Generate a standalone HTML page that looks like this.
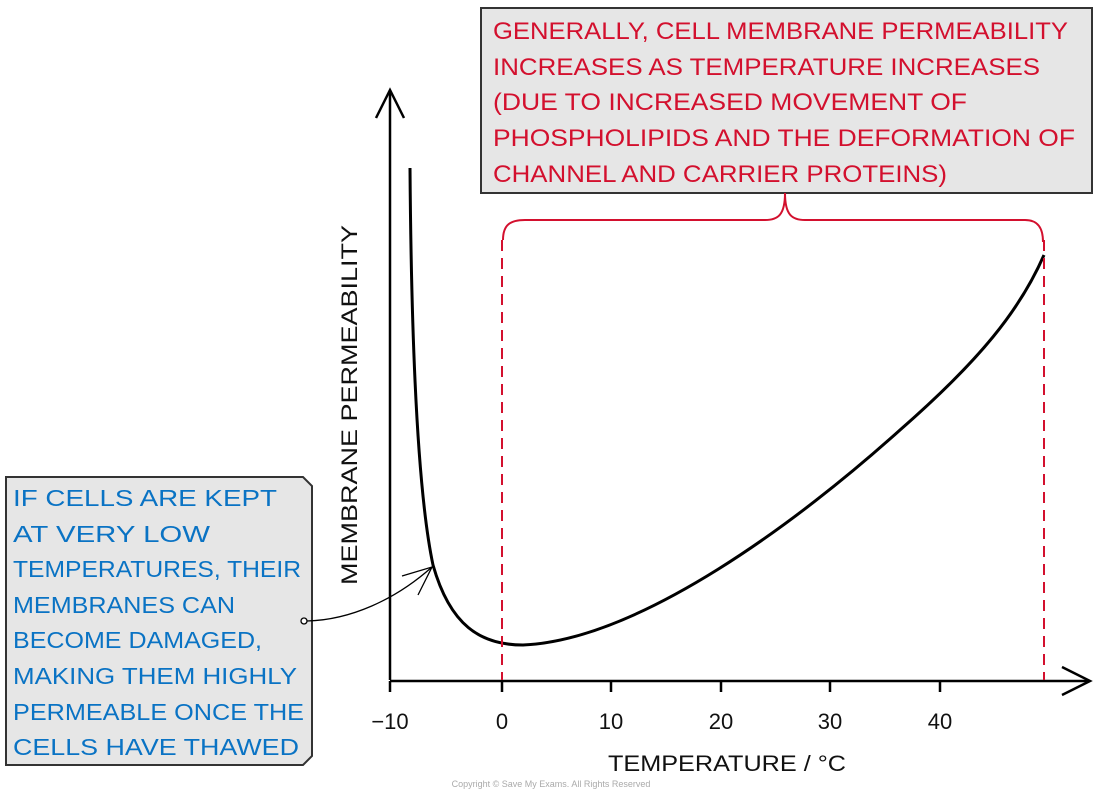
<!DOCTYPE html>
<html><head><meta charset="utf-8"><style>html,body{margin:0;padding:0;background:#fff}svg{display:block}</style></head><body>
<svg width="1100" height="795" viewBox="0 0 1100 795" xmlns="http://www.w3.org/2000/svg" font-family="Liberation Sans, sans-serif">
<rect x="481" y="8" width="611" height="185" fill="#e6e6e6" stroke="#333" stroke-width="2"/>
<g fill="#d3102e" font-size="24">
<text x="493" y="39" textLength="575" lengthAdjust="spacingAndGlyphs">GENERALLY, CELL MEMBRANE PERMEABILITY</text>
<text x="493" y="75" textLength="547" lengthAdjust="spacingAndGlyphs">INCREASES AS TEMPERATURE INCREASES</text>
<text x="493" y="110" textLength="474" lengthAdjust="spacingAndGlyphs">(DUE TO INCREASED MOVEMENT OF</text>
<text x="493" y="146" textLength="582" lengthAdjust="spacingAndGlyphs">PHOSPHOLIPIDS AND THE DEFORMATION OF</text>
<text x="493" y="182" textLength="454" lengthAdjust="spacingAndGlyphs">CHANNEL AND CARRIER PROTEINS)</text>
</g>
<path d="M6,477 H303 L312,486 V756 L303,765 H6 Z" fill="#e6e6e6" stroke="#333" stroke-width="2"/>
<g fill="#0a73c4" font-size="23">
<text x="13" y="506" textLength="264" lengthAdjust="spacingAndGlyphs">IF CELLS ARE KEPT</text>
<text x="13" y="542" textLength="197" lengthAdjust="spacingAndGlyphs">AT VERY LOW</text>
<text x="13" y="577" textLength="288" lengthAdjust="spacingAndGlyphs">TEMPERATURES, THEIR</text>
<text x="13" y="613" textLength="222" lengthAdjust="spacingAndGlyphs">MEMBRANES CAN</text>
<text x="13" y="648" textLength="249" lengthAdjust="spacingAndGlyphs">BECOME DAMAGED,</text>
<text x="13" y="684" textLength="284" lengthAdjust="spacingAndGlyphs">MAKING THEM HIGHLY</text>
<text x="13" y="720" textLength="291" lengthAdjust="spacingAndGlyphs">PERMEABLE ONCE THE</text>
<text x="13" y="755" textLength="286" lengthAdjust="spacingAndGlyphs">CELLS HAVE THAWED</text>
</g>
<circle cx="304" cy="621" r="3" fill="#fff" stroke="#000" stroke-width="1.3"/>
<path d="M307,621 C350,620 395,600 432,567" fill="none" stroke="#000" stroke-width="1.3"/>
<path d="M402,576 L432,567 L418,595" fill="none" stroke="#000" stroke-width="1.3"/>
<g stroke="#000" stroke-width="2.5" fill="none">
<path d="M390,680 V90"/><path d="M376,118 L390,90 L404,118"/>
<path d="M390,681 H1090"/><path d="M1062,667 L1090,681 L1062,695"/>
<path d="M502,681 V692 M611,681 V692 M721,681 V692 M830,681 V692 M940,681 V692"/>
<path d="M390,681 V692"/>
<path d="M410,168 C411,300 415,480 433,565 C450,625 480,645 523,645 C640,640 800,520 900,430 C980,360 1020,310 1044,255" stroke-width="3"/>
</g>
<g stroke="#d3102e" stroke-width="2" fill="none">
<path d="M502,240 V680 M1044,240 V680" stroke-dasharray="11,7"/>
<path d="M503,240 C503,225 510,220 525,220 L765,220 C778,220 785,215 785,193 C785,215 792,220 805,220 L1025,220 C1038,220 1043,228 1043,242"/>
</g>
<g font-size="22" fill="#111" text-anchor="middle">
<text x="390" y="729">−10</text><text x="502" y="729">0</text><text x="611" y="729">10</text><text x="721" y="729">20</text><text x="830" y="729">30</text><text x="940" y="729">40</text>
<text x="727" y="771" textLength="238" lengthAdjust="spacingAndGlyphs">TEMPERATURE / °C</text>
<text transform="translate(357,405) rotate(-90)" textLength="360" lengthAdjust="spacingAndGlyphs">MEMBRANE PERMEABILITY</text>
</g>
<text x="551" y="787" font-size="9" fill="#aaa" text-anchor="middle">Copyright © Save My Exams. All Rights Reserved</text>
</svg>
</body></html>
